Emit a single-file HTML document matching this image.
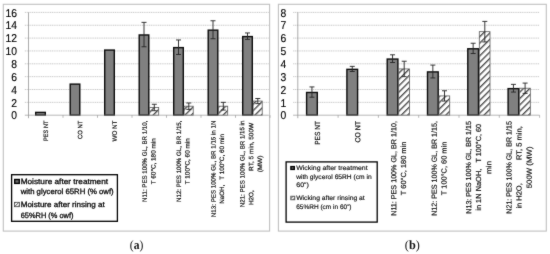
<!DOCTYPE html>
<html><head><meta charset="utf-8"><title>Figure</title>
<style>
html,body{margin:0;padding:0;background:#fff;}
svg{display:block;font-family:"Liberation Sans", sans-serif;text-rendering:geometricPrecision;}
</style></head><body>
<svg width="550" height="254" viewBox="0 0 550 254">
<rect width="550" height="254" fill="#fff"/>
<filter id="soft" x="0" y="0" width="550" height="254" filterUnits="userSpaceOnUse" color-interpolation-filters="sRGB"><feConvolveMatrix order="3" kernelMatrix="1 3 1 3 36 3 1 3 1" divisor="52" edgeMode="duplicate" preserveAlpha="true"/></filter>
<g filter="url(#soft)">
<rect x="-5" y="-5" width="560" height="264" fill="#fff"/>
<defs><pattern id="hatch" width="4.5" height="4.5" patternUnits="userSpaceOnUse" patternTransform="rotate(-45)"><rect width="4.5" height="4.5" fill="#fff"/><rect width="4.5" height="1.35" fill="#484848"/></pattern><pattern id="hatch2" width="2.4" height="2.4" patternUnits="userSpaceOnUse" patternTransform="rotate(-45)"><rect width="2.4" height="2.4" fill="#fff"/><rect width="2.4" height="0.9" fill="#666"/></pattern></defs>
<rect x="3.3" y="4.3" width="266.3" height="226.79999999999998" fill="#fff" stroke="#c0c0c0" stroke-width="1.1"/>
<line x1="24.8" y1="102.35" x2="268.8" y2="102.35" stroke="#b4b4b4" stroke-width="0.7" stroke-dasharray="1.2 0.6"/>
<line x1="24.8" y1="89.50" x2="268.8" y2="89.50" stroke="#b4b4b4" stroke-width="0.7" stroke-dasharray="1.2 0.6"/>
<line x1="24.8" y1="76.65" x2="268.8" y2="76.65" stroke="#b4b4b4" stroke-width="0.7" stroke-dasharray="1.2 0.6"/>
<line x1="24.8" y1="63.80" x2="268.8" y2="63.80" stroke="#b4b4b4" stroke-width="0.7" stroke-dasharray="1.2 0.6"/>
<line x1="24.8" y1="50.95" x2="268.8" y2="50.95" stroke="#b4b4b4" stroke-width="0.7" stroke-dasharray="1.2 0.6"/>
<line x1="24.8" y1="38.10" x2="268.8" y2="38.10" stroke="#b4b4b4" stroke-width="0.7" stroke-dasharray="1.2 0.6"/>
<line x1="24.8" y1="25.25" x2="268.8" y2="25.25" stroke="#b4b4b4" stroke-width="0.7" stroke-dasharray="1.2 0.6"/>
<line x1="24.8" y1="12.40" x2="268.8" y2="12.40" stroke="#b4b4b4" stroke-width="0.7" stroke-dasharray="1.2 0.6"/>
<text x="17.0" y="119.40" font-size="11.4" text-anchor="end" textLength="5.75" lengthAdjust="spacingAndGlyphs" fill="#000" stroke="#000" stroke-width="0.12">0</text>
<text x="17.0" y="106.55" font-size="11.4" text-anchor="end" textLength="5.75" lengthAdjust="spacingAndGlyphs" fill="#000" stroke="#000" stroke-width="0.12">2</text>
<text x="17.0" y="93.70" font-size="11.4" text-anchor="end" textLength="5.75" lengthAdjust="spacingAndGlyphs" fill="#000" stroke="#000" stroke-width="0.12">4</text>
<text x="17.0" y="80.85" font-size="11.4" text-anchor="end" textLength="5.75" lengthAdjust="spacingAndGlyphs" fill="#000" stroke="#000" stroke-width="0.12">6</text>
<text x="17.0" y="68.00" font-size="11.4" text-anchor="end" textLength="5.75" lengthAdjust="spacingAndGlyphs" fill="#000" stroke="#000" stroke-width="0.12">8</text>
<text x="17.0" y="55.15" font-size="11.4" text-anchor="end" textLength="11.50" lengthAdjust="spacingAndGlyphs" fill="#000" stroke="#000" stroke-width="0.12">10</text>
<text x="17.0" y="42.30" font-size="11.4" text-anchor="end" textLength="11.50" lengthAdjust="spacingAndGlyphs" fill="#000" stroke="#000" stroke-width="0.12">12</text>
<text x="17.0" y="29.45" font-size="11.4" text-anchor="end" textLength="11.50" lengthAdjust="spacingAndGlyphs" fill="#000" stroke="#000" stroke-width="0.12">14</text>
<text x="17.0" y="16.60" font-size="11.4" text-anchor="end" textLength="11.50" lengthAdjust="spacingAndGlyphs" fill="#000" stroke="#000" stroke-width="0.12">16</text>
<rect x="35.70" y="112.39" width="9.60" height="2.71" fill="#808080" stroke="#0c0c0c" stroke-width="1.4"/>
<rect x="70.20" y="84.12" width="9.60" height="30.98" fill="#808080" stroke="#0c0c0c" stroke-width="1.4"/>
<rect x="104.70" y="50.07" width="9.60" height="65.03" fill="#808080" stroke="#0c0c0c" stroke-width="1.4"/>
<rect x="139.20" y="34.97" width="9.60" height="80.13" fill="#808080" stroke="#0c0c0c" stroke-width="1.4"/>
<path d="M144.00 22.36V46.77M141.50 22.36H146.50M141.50 46.77H146.50" stroke="#222" stroke-width="0.9" fill="none"/>
<rect x="149.60" y="107.49" width="9.10" height="7.71" fill="url(#hatch)" stroke="#5a5a5a" stroke-width="0.8"/>
<path d="M154.30 104.28V110.70M151.80 104.28H156.80M151.80 110.70H156.80" stroke="#222" stroke-width="0.9" fill="none"/>
<rect x="173.70" y="47.62" width="9.60" height="67.48" fill="#808080" stroke="#0c0c0c" stroke-width="1.4"/>
<path d="M178.50 39.96V54.48M176.00 39.96H181.00M176.00 54.48H181.00" stroke="#222" stroke-width="0.9" fill="none"/>
<rect x="184.10" y="106.20" width="9.10" height="9.00" fill="url(#hatch)" stroke="#5a5a5a" stroke-width="0.8"/>
<path d="M188.80 102.99V109.42M186.30 102.99H191.30M186.30 109.42H191.30" stroke="#222" stroke-width="0.9" fill="none"/>
<rect x="208.20" y="30.15" width="9.60" height="84.95" fill="#808080" stroke="#0c0c0c" stroke-width="1.4"/>
<path d="M213.00 20.75V38.74M210.50 20.75H215.50M210.50 38.74H215.50" stroke="#222" stroke-width="0.9" fill="none"/>
<rect x="218.60" y="106.20" width="9.10" height="9.00" fill="url(#hatch)" stroke="#5a5a5a" stroke-width="0.8"/>
<path d="M223.30 102.35V110.06M220.80 102.35H225.80M220.80 110.06H225.80" stroke="#222" stroke-width="0.9" fill="none"/>
<rect x="242.70" y="36.57" width="9.60" height="78.53" fill="#808080" stroke="#0c0c0c" stroke-width="1.4"/>
<path d="M247.50 32.96V39.39M245.00 32.96H250.00M245.00 39.39H250.00" stroke="#222" stroke-width="0.9" fill="none"/>
<rect x="253.10" y="101.06" width="9.10" height="14.14" fill="url(#hatch)" stroke="#5a5a5a" stroke-width="0.8"/>
<path d="M257.80 98.50V103.64M255.30 98.50H260.30M255.30 103.64H260.30" stroke="#222" stroke-width="0.9" fill="none"/>
<line x1="28.5" y1="12.4" x2="28.5" y2="118.2" stroke="#888" stroke-width="0.7"/>
<line x1="24.8" y1="115.2" x2="268.8" y2="115.2" stroke="#999" stroke-width="0.7"/>
<line x1="63.00" y1="115.2" x2="63.00" y2="117.8" stroke="#999" stroke-width="0.7"/>
<line x1="97.50" y1="115.2" x2="97.50" y2="117.8" stroke="#999" stroke-width="0.7"/>
<line x1="132.00" y1="115.2" x2="132.00" y2="117.8" stroke="#999" stroke-width="0.7"/>
<line x1="166.50" y1="115.2" x2="166.50" y2="117.8" stroke="#999" stroke-width="0.7"/>
<line x1="201.00" y1="115.2" x2="201.00" y2="117.8" stroke="#999" stroke-width="0.7"/>
<line x1="235.50" y1="115.2" x2="235.50" y2="117.8" stroke="#999" stroke-width="0.7"/>
<line x1="270.00" y1="115.2" x2="270.00" y2="117.8" stroke="#999" stroke-width="0.7"/>
<text transform="translate(47.90,130.76) rotate(-90.05)" font-size="6.30" text-anchor="middle" textLength="20.33" lengthAdjust="spacingAndGlyphs" fill="#161616" stroke="#161616" stroke-width="0.2">PES NT</text>
<text transform="translate(82.20,129.80) rotate(-90.05)" font-size="6.30" text-anchor="middle" textLength="18.39" lengthAdjust="spacingAndGlyphs" fill="#161616" stroke="#161616" stroke-width="0.2">CO NT</text>
<text transform="translate(116.70,131.08) rotate(-90.05)" font-size="6.30" text-anchor="middle" textLength="20.96" lengthAdjust="spacingAndGlyphs" fill="#161616" stroke="#161616" stroke-width="0.2">WO NT</text>
<text transform="translate(146.70,161.28) rotate(-90.05)" font-size="6.30" text-anchor="middle" textLength="81.37" lengthAdjust="spacingAndGlyphs" fill="#161616" stroke="#161616" stroke-width="0.2">N11: PES 100% GL, BR 1/10,</text>
<text transform="translate(155.40,161.28) rotate(-90.05)" font-size="6.30" text-anchor="middle" textLength="45.90" lengthAdjust="spacingAndGlyphs" fill="#161616" stroke="#161616" stroke-width="0.2">T 60°C, 180 min</text>
<text transform="translate(181.00,161.28) rotate(-90.05)" font-size="6.30" text-anchor="middle" textLength="81.37" lengthAdjust="spacingAndGlyphs" fill="#161616" stroke="#161616" stroke-width="0.2">N12: PES 100% GL, BR 1/15,</text>
<text transform="translate(189.60,161.28) rotate(-90.05)" font-size="6.30" text-anchor="middle" textLength="45.90" lengthAdjust="spacingAndGlyphs" fill="#161616" stroke="#161616" stroke-width="0.2">T 100°C, 60 min</text>
<text transform="translate(215.60,168.88) rotate(-90.05)" font-size="6.30" text-anchor="middle" textLength="96.56" lengthAdjust="spacingAndGlyphs" fill="#161616" stroke="#161616" stroke-width="0.2">N13: PES 100% GL, BR 1/15 in 1N</text>
<text transform="translate(224.00,194.21) rotate(-90.05)" font-size="6.30" text-anchor="middle" textLength="19.15" lengthAdjust="spacingAndGlyphs" fill="#161616" stroke="#161616" stroke-width="0.2">NaOH,</text>
<text transform="translate(224.00,156.93) rotate(-90.05)" font-size="6.30" text-anchor="middle" textLength="45.90" lengthAdjust="spacingAndGlyphs" fill="#161616" stroke="#161616" stroke-width="0.2">T 100°C, 60 min</text>
<text transform="translate(244.40,163.92) rotate(-90.05)" font-size="6.30" text-anchor="middle" textLength="86.63" lengthAdjust="spacingAndGlyphs" fill="#161616" stroke="#161616" stroke-width="0.2">N21: PES 100% GL, BR 1/15 in</text>
<text transform="translate(253.20,197.67) rotate(-90.05)" font-size="6.30" text-anchor="middle" textLength="14.70" lengthAdjust="spacingAndGlyphs" fill="#161616" stroke="#161616" stroke-width="0.2">H2O,</text>
<text transform="translate(253.20,146.86) rotate(-90.05)" font-size="6.30" text-anchor="middle" textLength="48.08" lengthAdjust="spacingAndGlyphs" fill="#161616" stroke="#161616" stroke-width="0.2">RT, 5 min, 500W</text>
<text transform="translate(261.90,163.92) rotate(-90.05)" font-size="6.30" text-anchor="middle" textLength="16.93" lengthAdjust="spacingAndGlyphs" fill="#161616" stroke="#161616" stroke-width="0.2">(MW)</text>
<rect x="11.6" y="174.7" width="105.80000000000001" height="46.60000000000002" fill="#fff" stroke="#000" stroke-width="1.3"/>
<rect x="14.7" y="179.5" width="4.6" height="3.9" fill="#6a6a6a" stroke="#000" stroke-width="1.4"/>
<rect x="14.5" y="202.3" width="5.0" height="4.4" fill="url(#hatch2)" stroke="#444" stroke-width="0.8"/>
<text x="20.7" y="184" font-size="7.65" textLength="87.37" lengthAdjust="spacingAndGlyphs" fill="#0a0a0a" stroke="#0a0a0a" stroke-width="0.3">Moisture after treatment</text>
<text x="20.7" y="194.1" font-size="7.65" textLength="92.96" lengthAdjust="spacingAndGlyphs" fill="#0a0a0a" stroke="#0a0a0a" stroke-width="0.3">with glycerol 65RH (% owf)</text>
<text x="20.7" y="206.5" font-size="7.65" textLength="84.04" lengthAdjust="spacingAndGlyphs" fill="#0a0a0a" stroke="#0a0a0a" stroke-width="0.3">Moisture after rinsing at</text>
<text x="20.7" y="217.6" font-size="7.65" textLength="52.83" lengthAdjust="spacingAndGlyphs" fill="#0a0a0a" stroke="#0a0a0a" stroke-width="0.3">65%RH (% owf)</text>
<rect x="278.4" y="4.3" width="267.9" height="226.79999999999998" fill="#fff" stroke="#c0c0c0" stroke-width="1.1"/>
<line x1="293.1" y1="102.35" x2="539.6" y2="102.35" stroke="#b4b4b4" stroke-width="0.7" stroke-dasharray="1.2 0.6"/>
<line x1="293.1" y1="89.50" x2="539.6" y2="89.50" stroke="#b4b4b4" stroke-width="0.7" stroke-dasharray="1.2 0.6"/>
<line x1="293.1" y1="76.65" x2="539.6" y2="76.65" stroke="#b4b4b4" stroke-width="0.7" stroke-dasharray="1.2 0.6"/>
<line x1="293.1" y1="63.80" x2="539.6" y2="63.80" stroke="#b4b4b4" stroke-width="0.7" stroke-dasharray="1.2 0.6"/>
<line x1="293.1" y1="50.95" x2="539.6" y2="50.95" stroke="#b4b4b4" stroke-width="0.7" stroke-dasharray="1.2 0.6"/>
<line x1="293.1" y1="38.10" x2="539.6" y2="38.10" stroke="#b4b4b4" stroke-width="0.7" stroke-dasharray="1.2 0.6"/>
<line x1="293.1" y1="25.25" x2="539.6" y2="25.25" stroke="#b4b4b4" stroke-width="0.7" stroke-dasharray="1.2 0.6"/>
<line x1="293.1" y1="12.40" x2="539.6" y2="12.40" stroke="#b4b4b4" stroke-width="0.7" stroke-dasharray="1.2 0.6"/>
<text x="286.2" y="119.40" font-size="11.4" text-anchor="end" textLength="5.75" lengthAdjust="spacingAndGlyphs" fill="#000" stroke="#000" stroke-width="0.12">0</text>
<text x="286.2" y="106.55" font-size="11.4" text-anchor="end" textLength="5.75" lengthAdjust="spacingAndGlyphs" fill="#000" stroke="#000" stroke-width="0.12">1</text>
<text x="286.2" y="93.70" font-size="11.4" text-anchor="end" textLength="5.75" lengthAdjust="spacingAndGlyphs" fill="#000" stroke="#000" stroke-width="0.12">2</text>
<text x="286.2" y="80.85" font-size="11.4" text-anchor="end" textLength="5.75" lengthAdjust="spacingAndGlyphs" fill="#000" stroke="#000" stroke-width="0.12">3</text>
<text x="286.2" y="68.00" font-size="11.4" text-anchor="end" textLength="5.75" lengthAdjust="spacingAndGlyphs" fill="#000" stroke="#000" stroke-width="0.12">4</text>
<text x="286.2" y="55.15" font-size="11.4" text-anchor="end" textLength="5.75" lengthAdjust="spacingAndGlyphs" fill="#000" stroke="#000" stroke-width="0.12">5</text>
<text x="286.2" y="42.30" font-size="11.4" text-anchor="end" textLength="5.75" lengthAdjust="spacingAndGlyphs" fill="#000" stroke="#000" stroke-width="0.12">6</text>
<text x="286.2" y="29.45" font-size="11.4" text-anchor="end" textLength="5.75" lengthAdjust="spacingAndGlyphs" fill="#000" stroke="#000" stroke-width="0.12">7</text>
<text x="286.2" y="16.60" font-size="11.4" text-anchor="end" textLength="5.75" lengthAdjust="spacingAndGlyphs" fill="#000" stroke="#000" stroke-width="0.12">8</text>
<rect x="306.60" y="92.47" width="10.70" height="22.63" fill="#808080" stroke="#0c0c0c" stroke-width="1.4"/>
<path d="M311.95 86.93V97.21M309.45 86.93H314.45M309.45 97.21H314.45" stroke="#222" stroke-width="0.9" fill="none"/>
<rect x="346.90" y="69.34" width="10.70" height="45.76" fill="#808080" stroke="#0c0c0c" stroke-width="1.4"/>
<path d="M352.25 66.37V71.51M349.75 66.37H354.75M349.75 71.51H354.75" stroke="#222" stroke-width="0.9" fill="none"/>
<rect x="387.20" y="59.06" width="10.70" height="56.04" fill="#808080" stroke="#0c0c0c" stroke-width="1.4"/>
<path d="M392.55 54.80V62.52M390.05 54.80H395.05M390.05 62.52H395.05" stroke="#222" stroke-width="0.9" fill="none"/>
<rect x="398.70" y="68.94" width="10.70" height="46.26" fill="url(#hatch)" stroke="#5a5a5a" stroke-width="0.8"/>
<path d="M404.20 61.23V76.65M401.70 61.23H406.70M401.70 76.65H406.70" stroke="#222" stroke-width="0.9" fill="none"/>
<rect x="427.50" y="71.91" width="10.70" height="43.19" fill="#808080" stroke="#0c0c0c" stroke-width="1.4"/>
<path d="M432.85 65.09V77.94M430.35 65.09H435.35M430.35 77.94H435.35" stroke="#222" stroke-width="0.9" fill="none"/>
<rect x="439.00" y="95.93" width="10.70" height="19.27" fill="url(#hatch)" stroke="#5a5a5a" stroke-width="0.8"/>
<path d="M444.50 90.78V101.06M442.00 90.78H447.00M442.00 101.06H447.00" stroke="#222" stroke-width="0.9" fill="none"/>
<rect x="467.80" y="48.78" width="10.70" height="66.32" fill="#808080" stroke="#0c0c0c" stroke-width="1.4"/>
<path d="M473.15 43.24V53.52M470.65 43.24H475.65M470.65 53.52H475.65" stroke="#222" stroke-width="0.9" fill="none"/>
<rect x="479.30" y="31.68" width="10.70" height="83.52" fill="url(#hatch)" stroke="#5a5a5a" stroke-width="0.8"/>
<path d="M484.80 21.40V41.95M482.30 21.40H487.30M482.30 41.95H487.30" stroke="#222" stroke-width="0.9" fill="none"/>
<rect x="508.10" y="88.62" width="10.70" height="26.48" fill="#808080" stroke="#0c0c0c" stroke-width="1.4"/>
<path d="M513.45 84.36V92.07M510.95 84.36H515.95M510.95 92.07H515.95" stroke="#222" stroke-width="0.9" fill="none"/>
<rect x="519.60" y="88.22" width="10.70" height="26.98" fill="url(#hatch)" stroke="#5a5a5a" stroke-width="0.8"/>
<path d="M525.10 83.08V93.36M522.60 83.08H527.60M522.60 93.36H527.60" stroke="#222" stroke-width="0.9" fill="none"/>
<line x1="297.8" y1="12.4" x2="297.8" y2="118.2" stroke="#888" stroke-width="0.7"/>
<line x1="293.1" y1="115.2" x2="539.6" y2="115.2" stroke="#999" stroke-width="0.7"/>
<line x1="338.10" y1="115.2" x2="338.10" y2="117.8" stroke="#999" stroke-width="0.7"/>
<line x1="378.40" y1="115.2" x2="378.40" y2="117.8" stroke="#999" stroke-width="0.7"/>
<line x1="418.70" y1="115.2" x2="418.70" y2="117.8" stroke="#999" stroke-width="0.7"/>
<line x1="459.00" y1="115.2" x2="459.00" y2="117.8" stroke="#999" stroke-width="0.7"/>
<line x1="499.30" y1="115.2" x2="499.30" y2="117.8" stroke="#999" stroke-width="0.7"/>
<line x1="539.60" y1="115.2" x2="539.60" y2="117.8" stroke="#999" stroke-width="0.7"/>
<text transform="translate(320.10,132.93) rotate(-90.05)" font-size="7.33" text-anchor="middle" textLength="23.66" lengthAdjust="spacingAndGlyphs" fill="#161616" stroke="#161616" stroke-width="0.2">PES NT</text>
<text transform="translate(360.30,131.80) rotate(-90.05)" font-size="7.33" text-anchor="middle" textLength="21.40" lengthAdjust="spacingAndGlyphs" fill="#161616" stroke="#161616" stroke-width="0.2">CO NT</text>
<text transform="translate(396.30,168.45) rotate(-90.05)" font-size="7.33" text-anchor="middle" textLength="94.70" lengthAdjust="spacingAndGlyphs" fill="#161616" stroke="#161616" stroke-width="0.2">N11: PES 100% GL, BR 1/10,</text>
<text transform="translate(406.00,168.45) rotate(-90.05)" font-size="7.33" text-anchor="middle" textLength="53.42" lengthAdjust="spacingAndGlyphs" fill="#161616" stroke="#161616" stroke-width="0.2">T 60°C, 180 min</text>
<text transform="translate(436.70,168.45) rotate(-90.05)" font-size="7.33" text-anchor="middle" textLength="94.70" lengthAdjust="spacingAndGlyphs" fill="#161616" stroke="#161616" stroke-width="0.2">N12: PES 100% GL, BR 1/15,</text>
<text transform="translate(446.40,168.45) rotate(-90.05)" font-size="7.33" text-anchor="middle" textLength="53.42" lengthAdjust="spacingAndGlyphs" fill="#161616" stroke="#161616" stroke-width="0.2">T 100°C, 60 min</text>
<text transform="translate(471.10,167.40) rotate(-90.05)" font-size="7.33" text-anchor="middle" textLength="92.61" lengthAdjust="spacingAndGlyphs" fill="#161616" stroke="#161616" stroke-width="0.2">N13: PES 100% GL, BR 1/15</text>
<text transform="translate(481.10,189.73) rotate(-90.05)" font-size="7.33" text-anchor="middle" textLength="42.06" lengthAdjust="spacingAndGlyphs" fill="#161616" stroke="#161616" stroke-width="0.2">in 1N NaOH,</text>
<text transform="translate(481.10,143.31) rotate(-90.05)" font-size="7.33" text-anchor="middle" textLength="38.51" lengthAdjust="spacingAndGlyphs" fill="#161616" stroke="#161616" stroke-width="0.2">T 100°C, 60</text>
<text transform="translate(491.20,167.40) rotate(-90.05)" font-size="7.33" text-anchor="middle" textLength="13.02" lengthAdjust="spacingAndGlyphs" fill="#161616" stroke="#161616" stroke-width="0.2">min</text>
<text transform="translate(511.50,167.40) rotate(-90.05)" font-size="7.33" text-anchor="middle" textLength="92.61" lengthAdjust="spacingAndGlyphs" fill="#161616" stroke="#161616" stroke-width="0.2">N21: PES 100% GL, BR 1/15</text>
<text transform="translate(521.60,195.94) rotate(-90.05)" font-size="7.33" text-anchor="middle" textLength="25.33" lengthAdjust="spacingAndGlyphs" fill="#161616" stroke="#161616" stroke-width="0.2">in H2O,</text>
<text transform="translate(521.60,143.14) rotate(-90.05)" font-size="7.33" text-anchor="middle" textLength="33.87" lengthAdjust="spacingAndGlyphs" fill="#161616" stroke="#161616" stroke-width="0.2">RT, 5 min,</text>
<text transform="translate(531.70,167.40) rotate(-90.05)" font-size="7.33" text-anchor="middle" textLength="41.79" lengthAdjust="spacingAndGlyphs" fill="#161616" stroke="#161616" stroke-width="0.2">500W (MW)</text>
<rect x="286.1" y="161.9" width="91.09999999999997" height="60.19999999999999" fill="#fff" stroke="#000" stroke-width="1.3"/>
<rect x="290.9" y="166.6" width="3.4" height="2.8" fill="#6a6a6a" stroke="#000" stroke-width="1.4"/>
<rect x="290.8" y="196.2" width="4.0" height="3.6" fill="url(#hatch2)" stroke="#444" stroke-width="0.8"/>
<text x="296.2" y="169.5" font-size="6.56" textLength="71.38" lengthAdjust="spacingAndGlyphs" fill="#0a0a0a" stroke="#0a0a0a" stroke-width="0.14">Wicking after treatment</text>
<text x="296.2" y="178.6" font-size="6.56" textLength="75.43" lengthAdjust="spacingAndGlyphs" fill="#0a0a0a" stroke="#0a0a0a" stroke-width="0.14">with glycerol 65RH (cm in</text>
<text x="296.2" y="187.3" font-size="6.56" textLength="12.65" lengthAdjust="spacingAndGlyphs" fill="#0a0a0a" stroke="#0a0a0a" stroke-width="0.14">60”)</text>
<text x="296.2" y="200.3" font-size="6.56" textLength="68.53" lengthAdjust="spacingAndGlyphs" fill="#0a0a0a" stroke="#0a0a0a" stroke-width="0.14">Wicking after rinsing at</text>
<text x="296.2" y="208.9" font-size="6.56" textLength="55.31" lengthAdjust="spacingAndGlyphs" fill="#0a0a0a" stroke="#0a0a0a" stroke-width="0.14">65%RH (cm in 60”)</text>
<text x="129.8" y="248.8" font-family="'Liberation Serif', serif" font-size="12.6" textLength="13.5" lengthAdjust="spacingAndGlyphs" fill="#111">(<tspan font-weight="bold">a</tspan>)</text>
<text x="404.8" y="248.8" font-family="'Liberation Serif', serif" font-size="12.6" textLength="15" lengthAdjust="spacingAndGlyphs" fill="#111">(<tspan font-weight="bold">b</tspan>)</text>
</g>
</svg>
</body></html>
